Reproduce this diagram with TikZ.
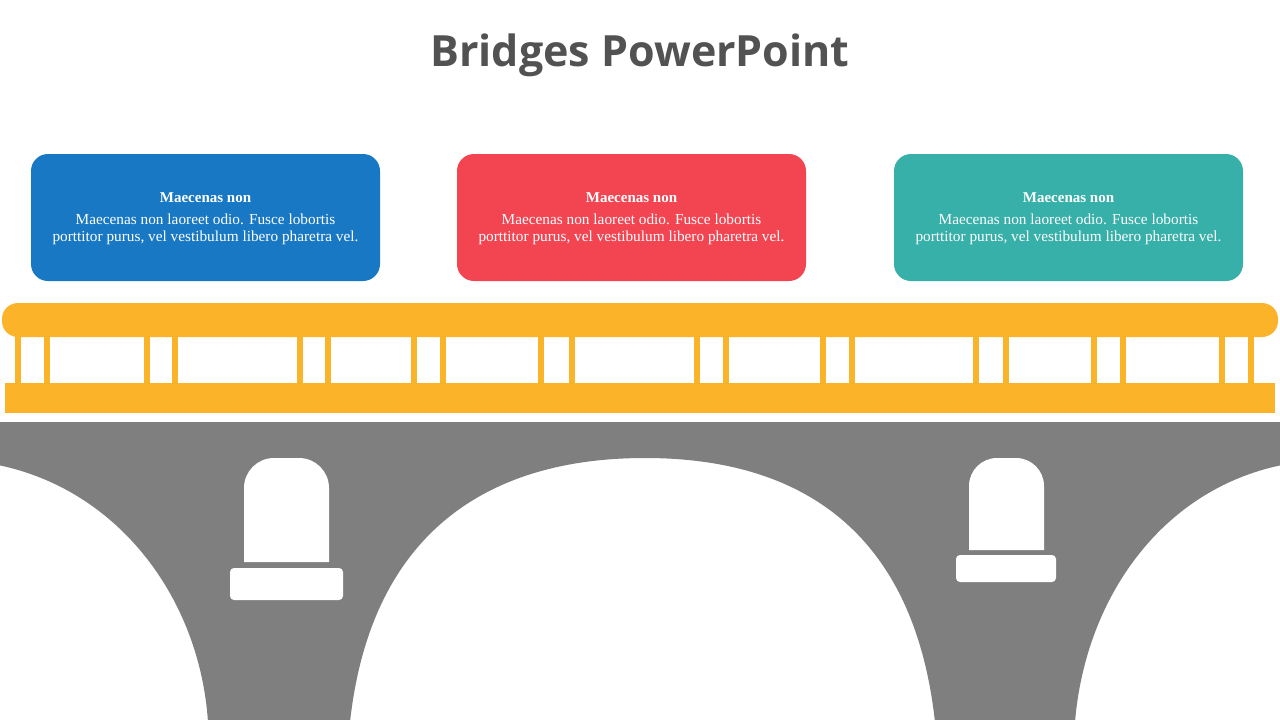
\documentclass[tikz,border=0pt]{standalone}
\usepackage{fontspec}
\setmainfont{Liberation Serif}
\newfontfamily\titlefont{Open Sans}
\begin{document}
\begin{tikzpicture}[x=1pt,y=-1pt,
  box/.style={rounded corners=17pt,draw=none},
  txt/.style={text=white,align=center,font=\fontsize{15.3}{16.5}\selectfont},
  hd/.style={text=white,font=\bfseries\fontsize{15}{16}\selectfont}]
\definecolor{yel}{HTML}{FBB32A}
\definecolor{gr}{HTML}{7F7F7F}
\definecolor{bl}{HTML}{1878C4}
\definecolor{rd}{HTML}{F34452}
\definecolor{tl}{HTML}{36B0A8}
\useasboundingbox (0,0) rectangle (1280,720);
\fill[white] (0,0) rectangle (1280,720);
\node[text=black!68,font=\titlefont\bfseries\fontsize{43}{50}\selectfont] (title) at (640,55) {Bridges PowerPoint};
\foreach \x/\c/\n in {31/bl/a,457/rd/b,894/tl/c}{
  \fill[\c,box] (\x,154) rectangle ++(349,127);
  \node[hd] (h\n) at (\x+174.5,198) {Maecenas non};
  \node[txt] (t\n) at (\x+174.5,229.5) {Maecenas non laoreet odio. Fusce lobortis\\porttitor purus, vel vestibulum libero pharetra vel.};
}
% railing
\fill[yel,rounded corners=16pt] (2,303) rectangle (1278,337);
\fill[yel] (5,383) rectangle (1275,413);
\foreach \p in {18,47,147,175,300,328,414,443,541,572,697,726,823,852,976,1006,1094,1123,1222,1251}
  \fill[yel] (\p-3,330) rectangle (\p+3,384);
% bridge
\fill[gr,even odd rule] (-3,422) rectangle (1283,723)
  (-2,465) .. controls (120,490) and (200,600) .. (208,722) -- (-2,722) -- cycle
  (350,722) .. controls (370,540) and (480,458) .. (645,458) .. controls (810,458) and (915,540) .. (935,722) -- cycle
  (1282,465) .. controls (1160,490) and (1085,600) .. (1075,722) -- (1282,722) -- cycle;
\fill[white] (244,562) -- (244,488) arc[start angle=180,end angle=270,radius=30] -- (299,458) arc[start angle=270,end angle=360,radius=30] -- (329,562) -- cycle;
\fill[white,rounded corners=4pt] (230,568) rectangle (343,600);
\fill[white] (969,550) -- (969,486) arc[start angle=180,end angle=270,radius=28] -- (1016,458) arc[start angle=270,end angle=360,radius=28] -- (1044,550) -- cycle;
\fill[white,rounded corners=4pt] (956,555) rectangle (1056,582);
\end{tikzpicture}
\end{document}
